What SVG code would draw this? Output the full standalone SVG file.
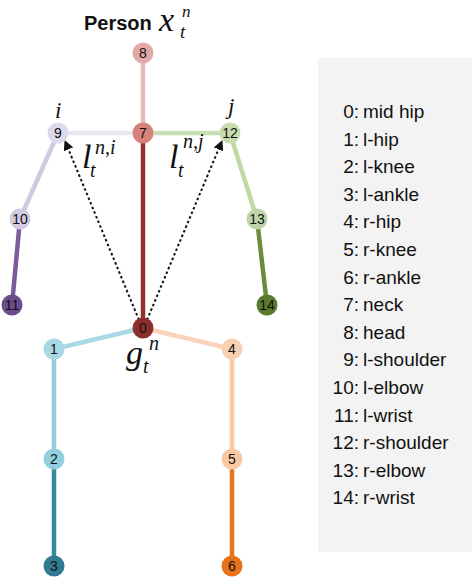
<svg xmlns="http://www.w3.org/2000/svg" width="472" height="578" viewBox="0 0 472 578">
<style>
.bone{fill:none;stroke-linecap:round;stroke-width:4.5}
.nl{font-family:"Liberation Sans",Arial,sans-serif;font-size:14px;text-anchor:middle;fill:#111}
.m{font-family:"Liberation Serif","Times New Roman",serif;font-style:italic;fill:#111}
.lg{font-family:"Liberation Sans",Arial,sans-serif;font-size:19px;fill:#111}
.dot{fill:none;stroke:#111;stroke-width:2;stroke-dasharray:2.5,2.5}
</style>
<defs>
<marker id="ah" markerWidth="10" markerHeight="10" refX="9" refY="5" orient="auto" markerUnits="userSpaceOnUse" viewBox="0 0 10 10">
<path d="M0,0 L10,5 L0,10 Z" fill="#111"/>
</marker>
</defs>
<rect x="318" y="58" width="154" height="494" fill="#f3f3f3"/>
<g id="legend" class="lg">
<text x="359" y="118" text-anchor="end">0:</text><text x="363" y="118">mid hip</text>
<text x="359" y="145.6" text-anchor="end">1:</text><text x="363" y="145.6">l-hip</text>
<text x="359" y="173.2" text-anchor="end">2:</text><text x="363" y="173.2">l-knee</text>
<text x="359" y="200.8" text-anchor="end">3:</text><text x="363" y="200.8">l-ankle</text>
<text x="359" y="228.4" text-anchor="end">4:</text><text x="363" y="228.4">r-hip</text>
<text x="359" y="256" text-anchor="end">5:</text><text x="363" y="256">r-knee</text>
<text x="359" y="283.6" text-anchor="end">6:</text><text x="363" y="283.6">r-ankle</text>
<text x="359" y="311.2" text-anchor="end">7:</text><text x="363" y="311.2">neck</text>
<text x="359" y="338.8" text-anchor="end">8:</text><text x="363" y="338.8">head</text>
<text x="359" y="366.4" text-anchor="end">9:</text><text x="363" y="366.4">l-shoulder</text>
<text x="359" y="394" text-anchor="end">10:</text><text x="363" y="394">l-elbow</text>
<text x="359" y="421.6" text-anchor="end">11:</text><text x="363" y="421.6">l-wrist</text>
<text x="359" y="449.2" text-anchor="end">12:</text><text x="363" y="449.2">r-shoulder</text>
<text x="359" y="476.8" text-anchor="end">13:</text><text x="363" y="476.8">r-elbow</text>
<text x="359" y="504.4" text-anchor="end">14:</text><text x="363" y="504.4">r-wrist</text>
</g>
<g id="title">
<text x="84" y="30" font-family="'Liberation Sans',Arial,sans-serif" font-weight="bold" font-size="20" fill="#111">Person</text>
<text class="m" x="159" y="31" font-size="34">x</text>
<text class="m" x="180" y="38" font-size="19">t</text>
<text class="m" x="182" y="17" font-size="17">n</text>
</g>
<g id="connectors">
<line class="bone" x1="143" y1="53" x2="143" y2="133" stroke="#e8b9b9"/>
<line class="bone" x1="58" y1="133" x2="143" y2="133" stroke="#e9e6f0"/>
<line class="bone" x1="143" y1="133" x2="230" y2="133" stroke="#cadfb4"/>
<line class="bone" x1="58" y1="133" x2="20" y2="219" stroke="#d0c9e1"/>
<line class="bone" x1="20" y1="219" x2="12" y2="305" stroke="#7b5b9c"/>
<line class="bone" x1="230" y1="133" x2="257" y2="219" stroke="#bfd8a4"/>
<line class="bone" x1="257" y1="219" x2="267" y2="305" stroke="#6c8c3c"/>
<line class="bone" x1="143" y1="133" x2="143" y2="328" stroke="#8e3431" stroke-width="5.5"/>
<line class="bone" x1="143" y1="328" x2="54" y2="349" stroke="#aad9e6"/>
<line class="bone" x1="54" y1="349" x2="54" y2="459" stroke="#93cbdf"/>
<line class="bone" x1="54" y1="459" x2="54" y2="566" stroke="#3a8a9c"/>
<line class="bone" x1="143" y1="328" x2="232" y2="349" stroke="#f9d3bc"/>
<line class="bone" x1="232" y1="349" x2="232" y2="459" stroke="#f8c9a3"/>
<line class="bone" x1="232" y1="459" x2="232" y2="566" stroke="#e8761c"/>
<line class="dot" x1="139" y1="320" x2="65" y2="141" marker-end="url(#ah)"/>
<line class="dot" x1="147" y1="320" x2="222" y2="141" marker-end="url(#ah)"/>
</g>
<g id="n8"><circle cx="143" cy="53" r="10.5" fill="#e2a9a9"/><text class="nl" x="143" y="58">8</text></g>
<g id="n9"><circle cx="58" cy="133" r="10.5" fill="#ddd9ec"/><text class="nl" x="58" y="138">9</text></g>
<g id="n7"><circle cx="143" cy="133" r="10.5" fill="#d8817a"/><text class="nl" x="143" y="138">7</text></g>
<g id="n12"><circle cx="230" cy="133" r="10.5" fill="#c9dcb1"/><text class="nl" x="230" y="138">12</text></g>
<g id="n10"><circle cx="20" cy="219" r="10.5" fill="#d2cae1"/><text class="nl" x="20" y="224">10</text></g>
<g id="n13"><circle cx="257" cy="219" r="10.5" fill="#bed5aa"/><text class="nl" x="257" y="224">13</text></g>
<g id="n11"><circle cx="12" cy="305" r="10.5" fill="#6b4c8c"/><text class="nl" x="12" y="310">11</text></g>
<g id="n14"><circle cx="267" cy="305" r="10.5" fill="#5b7b2c"/><text class="nl" x="267" y="310">14</text></g>
<g id="n0"><circle cx="143" cy="328" r="10.5" fill="#8b2f2b"/><text class="nl" x="143" y="333">0</text></g>
<g id="n1"><circle cx="54" cy="349" r="10.5" fill="#a9d8e5"/><text class="nl" x="54" y="354">1</text></g>
<g id="n4"><circle cx="232" cy="349" r="10.5" fill="#f8d0b2"/><text class="nl" x="232" y="354">4</text></g>
<g id="n2"><circle cx="54" cy="459" r="10.5" fill="#92cde0"/><text class="nl" x="54" y="464">2</text></g>
<g id="n5"><circle cx="232" cy="459" r="10.5" fill="#f8c9a2"/><text class="nl" x="232" y="464">5</text></g>
<g id="n3"><circle cx="54" cy="566" r="10.5" fill="#307b91"/><text class="nl" x="54" y="571">3</text></g>
<g id="n6"><circle cx="232" cy="566" r="10.5" fill="#e8711b"/><text class="nl" x="232" y="571">6</text></g>
<g id="labels">
<text class="m" x="55" y="118" font-size="23">i</text>
<text class="m" x="228" y="114" font-size="23">j</text>
<text class="m" x="82" y="168" font-size="34">l</text>
<text class="m" x="90" y="177" font-size="20">t</text>
<text class="m" x="95" y="154" font-size="20">n,i</text>
<text class="m" x="169" y="168" font-size="34">l</text>
<text class="m" x="178" y="177" font-size="20">t</text>
<text class="m" x="183" y="148" font-size="20">n,j</text>
<text class="m" x="126" y="364" font-size="34">g</text>
<text class="m" x="143" y="373" font-size="20">t</text>
<text class="m" x="149" y="350" font-size="20">n</text>
</g>
</svg>
